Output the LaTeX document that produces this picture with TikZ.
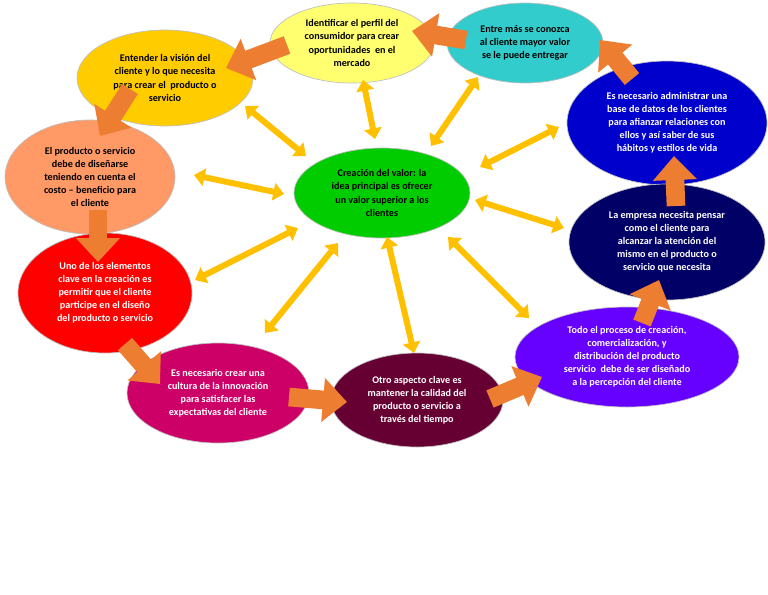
\documentclass[tikz,border=0pt]{standalone}
\usepackage{fontspec}
\setmainfont{Carlito}
\usetikzlibrary{shapes.geometric,arrows.meta}
\definecolor{cyel}{HTML}{FFFF70}
\definecolor{cteal}{HTML}{33CCCC}
\definecolor{cgold}{HTML}{FFCC00}
\definecolor{cblue}{HTML}{0000CC}
\definecolor{csal}{HTML}{FF9966}
\definecolor{cgreen}{HTML}{00CC00}
\definecolor{cnavy}{HTML}{000066}
\definecolor{cred}{HTML}{FF0000}
\definecolor{cpurp}{HTML}{6600FF}
\definecolor{cmag}{HTML}{CC0066}
\definecolor{cmar}{HTML}{660033}
\definecolor{corange}{HTML}{ED7D31}
\definecolor{cdarrow}{HTML}{FFC000}
\tikzset{
 bub/.style={ellipse,draw=gray!50,line width=0.5pt,inner sep=0pt,align=center,font=\bfseries\fontsize{7.6}{9.8}\selectfont},
 flow/.style={draw=corange,line width=14pt,-{Triangle[length=18pt,width=32pt]}},
 link/.style={draw=cdarrow,line width=4.5pt,{Triangle[length=8pt,width=13pt]}-{Triangle[length=8pt,width=13pt]}},
}
\begin{document}
\begin{tikzpicture}[x=0.75pt,y=-0.75pt]
\useasboundingbox (0,0) rectangle (768,594);
\fill[white] (0,0) rectangle (768,594);
\node[bub,fill=cyel,minimum width=0.75*164pt,minimum height=0.75*80pt] (yel) at (352,43) {Identificar el perfil del\\consumidor para crear\\oportunidades\ \ en el\\mercado};
\node[bub,fill=cteal,minimum width=0.75*156pt,minimum height=0.75*80pt] (teal) at (525,43) {Entre más se conozca\\al cliente mayor valor\\se le puede entregar};
\node[bub,fill=cgold,minimum width=0.75*176pt,minimum height=0.75*96pt] (gold) at (165,78) {Entender la visión del\\cliente y lo que necesita\\para crear el\ \ producto o\\servicio};
\node[bub,fill=cblue,text=white,minimum width=0.75*200pt,minimum height=0.75*124pt] (blue) at (667,123) {Es necesario administrar una\\base de datos de los clientes\\para afianzar relaciones con\\ellos y así saber de sus\\hábitos y estilos de vida};
\node[bub,fill=csal,minimum width=0.75*170pt,minimum height=0.75*114pt] (sal) at (90,177) {El producto o servicio\\debe de diseñarse\\teniendo en cuenta el\\costo -- beneficio para\\el cliente};
\node[bub,fill=cgreen,minimum width=0.75*176pt,minimum height=0.75*90pt] (c) at (382,193) {Creación del valor: la\\idea principal es ofrecer\\un valor superior a los\\clientes};
\node[bub,fill=cnavy,text=white,minimum width=0.75*196pt,minimum height=0.75*116pt] (navy) at (667,242) {La empresa necesita pensar\\como el cliente para\\alcanzar la atención del\\mismo en el producto o\\servicio que necesita};
\node[bub,fill=cred,text=white,minimum width=0.75*174pt,minimum height=0.75*120pt] (red) at (105,293) {Uno de los elementos\\clave en la creación es\\permitir que el cliente\\participe en el diseño\\del producto o servicio};
\node[bub,fill=cpurp,text=white,minimum width=0.75*224pt,minimum height=0.75*100pt] (purp) at (627,357) {Todo el proceso de creación,\\comercialización, y\\distribución del producto\\servicio\ \ debe de ser diseñado\\a la percepción del cliente};
\node[bub,fill=cmag,text=white,minimum width=0.75*182pt,minimum height=0.75*100pt] (mag) at (218,393) {Es necesario crear una\\cultura de la innovación\\para satisfacer las\\expectativas del cliente};
\node[bub,fill=cmar,text=white,minimum width=0.75*172pt,minimum height=0.75*94pt] (mar) at (417,400) {Otro aspecto clave es\\mantener la calidad del\\producto o servicio a\\través del tiempo};
% yellow double arrows
\draw[link] (363,80) -- (375,139);
\draw[link] (478,77) -- (431,146);
\draw[link] (245,106) -- (306,156);
\draw[link] (559,127) -- (480,167);
\draw[link] (194,175) -- (284,194);
\draw[link] (475,200) -- (564,228);
\draw[link] (298,228) -- (195,280);
\draw[link] (338,243) -- (265,333);
\draw[link] (387,237) -- (414,353);
\draw[link] (448,237) -- (529,318);
% orange flow arrows
\draw[flow] (466,40) -- (412,31);
\draw[flow] (287,45) -- (226,68);
\draw[flow] (130,89) -- (100,136);
\draw[flow] (98,210) -- (98,262);
\draw[flow] (125,344) -- (160,384);
\draw[flow] (289,397) -- (347,402);
\draw[flow] (490,399) -- (542,377);
\draw[flow] (642,323) -- (659,280);
\draw[flow] (676,206) -- (674,156);
\draw[flow] (632,79) -- (600,40);
\end{tikzpicture}
\end{document}
